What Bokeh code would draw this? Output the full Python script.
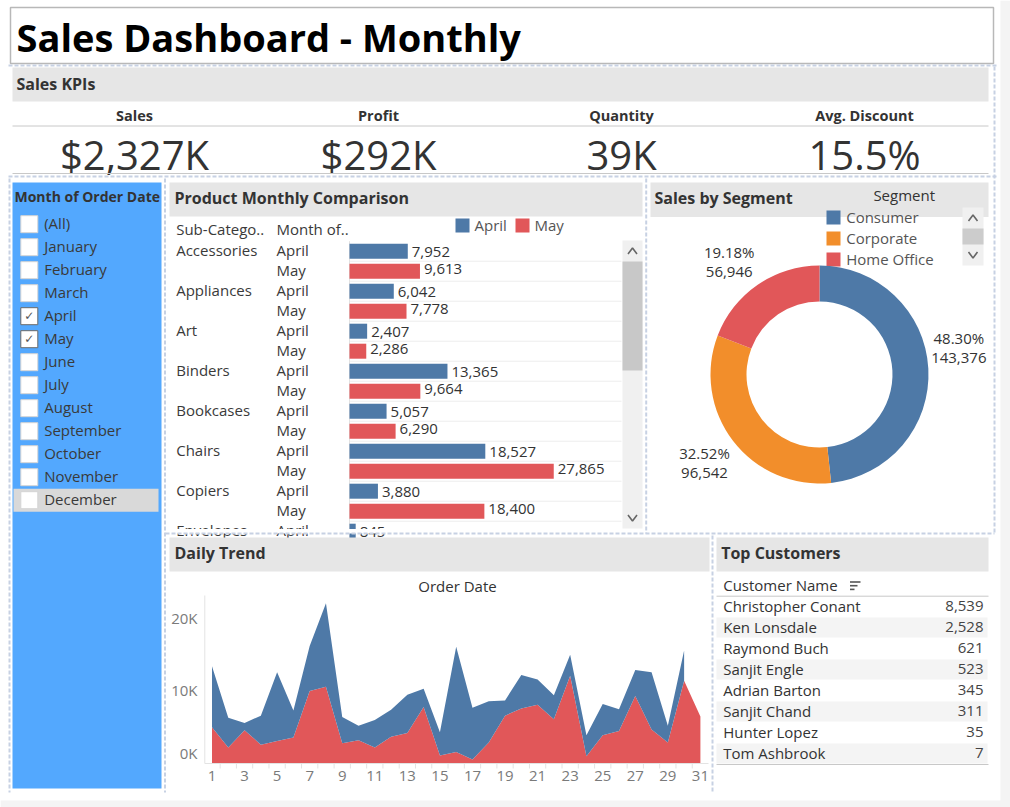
import numpy as np
from bokeh.plotting import figure
from bokeh.models import Range1d, ColumnDataSource
from bokeh.core.properties import value
from bokeh.embed import file_html
from bokeh.resources import INLINE

# ---------------- data ----------------
dashboard_title = "Sales Dashboard - Monthly"

kpi_section = "Sales KPIs"
kpi_names = ["Sales", "Profit", "Quantity", "Avg. Discount"]
kpi_sales_k = 2327
kpi_profit_k = 292
kpi_quantity_k = 39
kpi_avg_discount = 15.5

filter_title = "Month of Order Date"
filter_items = ["(All)", "January", "February", "March", "April", "May", "June",
                "July", "August", "September", "October", "November", "December"]
filter_checked = ["April", "May"]
filter_highlight = "December"

months = ["April", "May"]
sub_categories = ["Accessories", "Appliances", "Art", "Binders", "Bookcases",
                  "Chairs", "Copiers", "Envelopes"]
sub_sales_april = [7952, 6042, 2407, 13365, 5057, 18527, 3880, 845]
sub_sales_may = [9613, 7778, 2286, 9664, 6290, 27865, 18400]  # Envelopes/May is scrolled out of view

segments = ["Consumer", "Corporate", "Home Office"]
segment_sales = [143376, 96542, 56946]

trend_days = [1, 2, 3, 4, 5, 6, 7, 8, 9, 10, 11, 12, 13, 14, 15, 16,
              17, 18, 19, 20, 21, 22, 23, 24, 25, 26, 27, 28, 29, 30, 31]
daily_sales_april = [8400, 4100, 1000, 4000, 9500, 3700, 6200, 11500, 3600, 2000,
                     3800, 3700, 5300, 2500, 3200, 14500, 7150, 5700, 2100, 4600,
                     3500, 3300, 2900, 2900, 4300, 3000, 3600, 7900, 2300, 4200]
daily_sales_may = [5000, 2200, 4600, 2600, 3100, 3600, 10000, 10600, 2800, 3200,
                   2200, 3700, 4200, 7800, 1100, 1600, 550, 2900, 6600, 7600,
                   8100, 6100, 12100, 1000, 3900, 4500, 9300, 4700, 2900, 11400, 6500]
trend_ticks = [0, 10000, 20000]

customers = ["Christopher Conant", "Ken Lonsdale", "Raymond Buch", "Sanjit Engle",
             "Adrian Barton", "Sanjit Chand", "Hunter Lopez", "Tom Ashbrook"]
customer_sales = [8539, 2528, 621, 523, 345, 311, 35, 7]

# ---------------- style ----------------
BLUE, RED, ORANGE = "#4e79a7", "#e15759", "#f28e2b"
TXT = "#333333"
BAND = "#e6e6e6"
DASH = "#c7d1e3"
RULE = "#c8c8c8"
FONT = value("Open Sans")
TDY = -1  # small upward nudge for all texts

W, H = 1010, 807
OX = OY = 0


def X(v):
    return v - OX


def Y(v):
    return v - OY


def lin_x(page_x0, ppu):
    c0 = X(page_x0)
    return Range1d(start=-c0 / ppu, end=(W - c0) / ppu)


def lin_y_up(page_y0, ppu):
    c0 = Y(page_y0)
    return Range1d(start=-(H - c0) / ppu, end=c0 / ppu)


def rows_down(page_y0, pitch):
    c0 = Y(page_y0)
    return Range1d(start=(H - c0) / pitch, end=-c0 / pitch)


def days_x(page_x0, pitch):
    c0 = X(page_x0)
    return Range1d(start=1 - c0 / pitch, end=1 + (W - c0) / pitch)


p = figure(width=W, height=H, x_range=Range1d(0, W), y_range=Range1d(H, 0),
           x_axis_type=None, y_axis_type=None, toolbar_location=None,
           output_backend="svg", min_border=0, outline_line_color=None,
           background_fill_color="white", border_fill_color="white")

p.extra_x_ranges = {"bar": lin_x(349, 0.00733), "day": days_x(211.5, 16.28)}
p.extra_y_ranges = {"barrow": rows_down(250.7, 20), "sales": lin_y_up(763, 0.00725),
                    "pie": Range1d(0, H), "filt": rows_down(223.7, 23),
                    "cust": rows_down(606, 21), "seg": rows_down(217, 21)}


def quad(l, t, r, b, fill, line=None, lw=1):
    p.quad(left=[X(l)], right=[X(r)], top=[Y(t)], bottom=[Y(b)],
           fill_color=fill, line_color=line, line_width=lw)


def label(x, y, s, size=15, color=TXT, bold=False, align="left", baseline="middle"):
    p.text(x=[X(x)], y=[Y(y)], text=[s], text_font=FONT, text_font_size=f"{size}px",
           text_color=color, text_font_style="bold" if bold else "normal",
           text_align=align, text_baseline=baseline, y_offset=TDY)


def hline(x0, x1, y, color=RULE, lw=1):
    p.segment(x0=[X(x0)], x1=[X(x1)], y0=[Y(y)], y1=[Y(y)], line_color=color, line_width=lw)


def chevron(x, y, up=True):
    d = -3 if up else 3
    p.line(x=[X(x - 4.5), X(x), X(x + 4.5)], y=[Y(y - d), Y(y + d), Y(y - d)],
           line_color="#666666", line_width=1.6)


# outer gray page strips
quad(1000, 0, 1010, 807, "#f4f4f4")
quad(0, 800, 1010, 807, "#f4f4f4")

# ---------------- title ----------------
quad(10, 7, 993, 63, None, line="#b8b8b8", lw=1.5)
label(16, 37, dashboard_title, size=38, color="#000000", bold=True)

# ---------------- KPIs ----------------
quad(12, 67, 988, 101, BAND)
label(16, 84, kpi_section, size=16, bold=True)
kpi_values = [f"${kpi_sales_k:,}K", f"${kpi_profit_k:,}K", f"{kpi_quantity_k}K",
              f"{kpi_avg_discount}%"]
kpi_x = [134, 378, 621, 864]
p.text(x=[X(v) for v in kpi_x], y=[Y(116)] * 4, text=kpi_names, text_font=FONT,
       text_font_size="14.5px", text_font_style="bold", text_color=TXT,
       text_align="center", text_baseline="middle", y_offset=TDY)
hline(12, 988, 125.5)
p.text(x=[X(v) for v in kpi_x], y=[Y(154)] * 4, text=kpi_values, text_font=FONT,
       text_font_size="40px", text_color=TXT, text_align="center",
       text_baseline="middle")
hline(12, 988, 173)

# ---------------- month filter ----------------
quad(12, 182, 161, 788, "#53a8fe")
label(14, 197, filter_title, size=14, bold=True)
fidx = list(range(len(filter_items)))
p.hbar(y=[filter_items.index(filter_highlight)], left=X(13), right=X(158), height=1.0,
       y_range_name="filt", fill_color="#d9d9d9", line_color=None)
p.rect(x=X(28.8), y=fidx, width=17, height=17, width_units="screen", height_units="screen",
       y_range_name="filt", fill_color="white",
       line_color=["#6a6a6a" if m in filter_checked else "#d4d4d4" for m in filter_items])
p.text(x=X(28.8), y=[filter_items.index(m) for m in filter_checked],
       text=["\u2713"] * len(filter_checked), y_range_name="filt",
       text_font=value("DejaVu Sans"), text_font_size="12px", text_color="#555555",
       text_align="center", text_baseline="middle")
p.text(x=X(43.7), y=fidx, text=filter_items, y_range_name="filt", text_font=FONT,
       text_font_size="15px", text_color="#3a3a3a", text_align="left",
       text_baseline="middle", y_offset=TDY)

# ---------------- product monthly comparison ----------------
quad(169, 182, 642, 216, BAND)
label(174, 198, "Product Monthly Comparison", size=16, bold=True)
label(175.7, 229.7, "Sub-Catego..", color="#3a3a3a")
label(276, 229.7, "Month of..", color="#3a3a3a")
quad(455, 218, 469, 232, BLUE)
label(474, 225.5, months[0], color="#555555")
quad(515, 218, 529, 232, RED)
label(534, 225.5, months[1], color="#555555")

rows, vals, cols, mons, labs, offs = [], [], [], [], [], []
for i, c in enumerate(sub_categories):
    for j, (series, col) in enumerate(zip([sub_sales_april, sub_sales_may], [BLUE, RED])):
        if i < len(series):
            rows.append(2 * i + j)
            vals.append(series[i])
            cols.append(col)
            mons.append(months[j])
            labs.append(f"{series[i]:,}")
            offs.append((1.5 if j == 0 else -1.5) + TDY)
bar_src = ColumnDataSource(dict(row=rows, val=vals, color=cols, mon=mons, lab=labs, yoff=offs))
n_rows = 2 * len(sub_categories)

p.segment(x0=X(349), x1=X(621), y0=[r + 0.5 for r in range(n_rows)],
          y1=[r + 0.5 for r in range(n_rows)], y_range_name="barrow",
          line_color="#ededed", line_width=1)
p.segment(x0=[0], x1=[0], y0=[-0.5], y1=[n_rows], x_range_name="bar",
          y_range_name="barrow", line_color="#e2e2e2", line_width=1)
p.hbar(y="row", left=0, right="val", height=0.75, source=bar_src, x_range_name="bar",
       y_range_name="barrow", fill_color="color", line_color=None)
p.text(x="val", y="row", text="lab", source=bar_src, x_range_name="bar",
       y_range_name="barrow", x_offset=4, y_offset="yoff", text_font=FONT,
       text_font_size="15px", text_color=TXT, text_baseline="middle")
p.text(x=X(276), y="row", text="mon", source=bar_src, y_range_name="barrow",
       text_font=FONT, text_font_size="15px", text_color="#3a3a3a",
       text_baseline="middle", y_offset=TDY)
p.text(x=X(175.7), y=[2 * i for i in range(len(sub_categories))], text=sub_categories,
       y_range_name="barrow", text_font=FONT, text_font_size="15px",
       text_color="#3a3a3a", text_baseline="middle", y_offset=TDY)
# scrolled-out region mask
quad(167, 528.5, 621.5, 533, "white")
# scrollbar
quad(622, 240, 642, 528, "#f0f0f0")
quad(622, 261, 642, 370, "#c8c8c8")
chevron(632, 250.5, up=True)
chevron(632, 517.5, up=False)

# ---------------- sales by segment ----------------
quad(650, 182, 988, 216.5, BAND)
label(654, 198, "Sales by Segment", size=16, bold=True)
label(903.7, 195.3, "Segment", align="center")
seg_colors = [BLUE, ORANGE, RED]
p.rect(x=X(833), y=list(range(len(segments))), width=14, height=14, width_units="screen",
       height_units="screen", y_range_name="seg", fill_color=seg_colors, line_color=None)
p.text(x=X(845.7), y=list(range(len(segments))), text=segments, y_range_name="seg",
       text_font=FONT, text_font_size="15px", text_color="#555555", text_baseline="middle",
       y_offset=TDY)
quad(962, 207, 983, 265, "#f0f0f0")
quad(962, 228, 983, 244, "#cccccc")
chevron(972.5, 217.5, up=True)
chevron(972.5, 254.5, up=False)

seg = np.array(segment_sales, dtype=float)
frac = seg / seg.sum()
cum = np.concatenate([[0.0], np.cumsum(frac)])
pie_src = ColumnDataSource(dict(
    start=np.pi / 2 - 2 * np.pi * cum[:-1], end=np.pi / 2 - 2 * np.pi * cum[1:],
    color=seg_colors))
pie_cx, pie_cy = X(819), H - Y(374)
p.annular_wedge(x=pie_cx, y=pie_cy, inner_radius=73, outer_radius=109,
                inner_radius_units="screen", outer_radius_units="screen",
                start_angle="start", end_angle="end", direction="clock",
                fill_color="color", line_color=None, source=pie_src, y_range_name="pie")
seg_label_pos = [(958.3, 338, 358.7), (704, 453, 473.5), (728.7, 252, 272.5)]
for (lx, ly1, ly2), f, v in zip(seg_label_pos, frac, segment_sales):
    label(lx, ly1, f"{f * 100:.2f}%", align="center")
    label(lx, ly2, f"{v:,}", align="center")

# ---------------- daily trend ----------------
quad(169, 537, 709, 571, BAND)
label(174, 553.5, "Daily Trend", size=16, bold=True)
label(457, 586, "Order Date", align="center")
may = np.array(daily_sales_may, dtype=float)
apr = np.array(daily_sales_april, dtype=float)
n_apr = len(apr)
p.varea(x=trend_days, y1=0, y2=may, x_range_name="day", y_range_name="sales",
        fill_color=RED)
p.varea(x=trend_days[:n_apr], y1=may[:n_apr], y2=may[:n_apr] + apr,
        x_range_name="day", y_range_name="sales", fill_color=BLUE)
p.segment(x0=[X(204.3)], x1=[X(204.3)], y0=[Y(595)], y1=[Y(763)],
          line_color="#e3e3e3", line_width=1)
p.segment(x0=[X(204.3)], x1=[X(708)], y0=[0], y1=[0], y_range_name="sales",
          line_color="#e3e3e3", line_width=1)
tick_pos = [d + 0.5 for d in trend_days[:-1]]
p.segment(x0=tick_pos, x1=tick_pos, y0=Y(763), y1=Y(768), x_range_name="day",
          line_color="#e3e3e3", line_width=1)
odd_days = [d for d in trend_days if d % 2 == 1]
p.text(x=odd_days, y=Y(777.3), text=[str(d) for d in odd_days], x_range_name="day",
       text_font=FONT, text_font_size="15px", text_color="#7a7a7a",
       text_align="center", text_baseline="middle", y_offset=TDY - 0.5)
p.text(x=X(197), y=trend_ticks, text=[f"{t // 1000}K" for t in trend_ticks],
       y_range_name="sales", y_offset=[(-9.7 if t == 0 else 0) + TDY for t in trend_ticks],
       text_font=FONT, text_font_size="15px", text_color="#7a7a7a",
       text_align="right", text_baseline="middle")

# ---------------- top customers ----------------
quad(716, 537, 988, 571, BAND)
label(720.7, 553.5, "Top Customers", size=16, bold=True)
label(722.7, 585, "Customer Name")
for yy, x1 in [(581.5, 860), (585.2, 857), (588.9, 854)]:
    hline(849.5, x1, yy, color="#555555", lw=1.6)
cidx = list(range(len(customers)))
p.hbar(y=[i for i in cidx if i % 2 == 1], left=X(716), right=X(987), height=0.96,
       y_range_name="cust", fill_color="#f4f4f4", line_color=None)
hline(716, 988, 595.7)
p.text(x=X(722.7), y=cidx, text=customers, y_range_name="cust", text_font=FONT,
       text_font_size="15px", text_color=TXT, text_baseline="middle", y_offset=TDY)
p.text(x=X(983), y=cidx, text=[f"{v:,}" for v in customer_sales], y_range_name="cust",
       text_font=FONT, text_font_size="15px", text_color="#444444",
       text_align="right", text_baseline="middle", y_offset=TDY)
hline(716, 988, 764)

# ---------------- layout separators ----------------
dashes = [(8, 65, 996, 65), (8, 176, 996, 176), (9, 178, 9, 792), (164.5, 178, 164.5, 792),
          (645.7, 178, 645.7, 533), (165, 533, 994, 533), (712, 535, 712, 792),
          (994, 66, 994, 532)]
p.segment(x0=[X(d[0]) for d in dashes], y0=[Y(d[1]) for d in dashes],
          x1=[X(d[2]) for d in dashes], y1=[Y(d[3]) for d in dashes],
          line_color=DASH, line_width=2, line_dash="4 2")

open("out.html", "w").write(file_html(p, INLINE))
